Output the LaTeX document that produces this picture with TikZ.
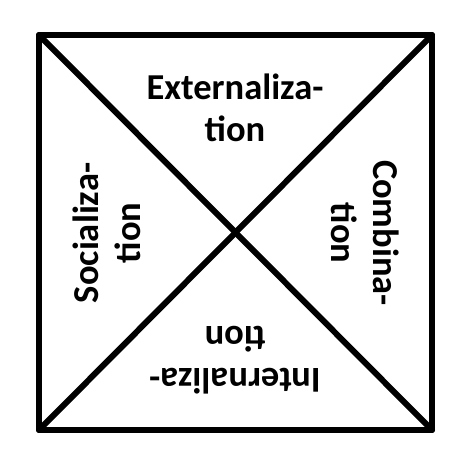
\documentclass[tikz,border=0pt]{standalone}
\usepackage{fontspec}
\setmainfont{Carlito}
\begin{document}
\begin{tikzpicture}[x=1pt,y=1pt,
  frame/.style={line width=6pt,line join=round,line cap=round},
  lbl/.style={font=\bfseries\fontsize{36.5}{42}\selectfont,align=center,inner sep=0pt}]
\useasboundingbox (0,0) rectangle (474,474);
\coordinate (tl) at (39,439);
\coordinate (tr) at (432,439);
\coordinate (br) at (432,44);
\coordinate (bl) at (39,44);
\draw[frame] (tl) -- (tr) -- (br) -- (bl) -- cycle;
\draw[frame] (tl) -- (br);
\draw[frame] (tr) -- (bl);
\node[lbl] (ext) at (235,366) {Externaliza-\\tion};
\node[lbl,rotate=90] (soc) at (107,241) {Socializa-\\tion};
\node[lbl,rotate=-90] (com) at (365,241) {Combina-\\tion};
\node[lbl,rotate=180] (int) at (235,114) {Internaliza-\\tion};
\end{tikzpicture}
\end{document}
